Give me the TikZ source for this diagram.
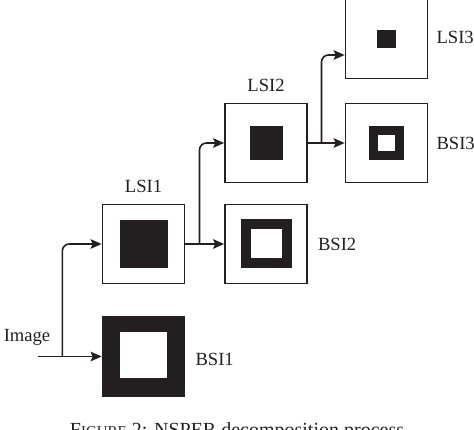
\documentclass[tikz,border=0pt]{standalone}
\usepackage{fontspec}
\setmainfont{Liberation Serif}
\usepackage{tikz}
\usetikzlibrary{positioning}
\usetikzlibrary{arrows.meta}
\definecolor{ink}{RGB}{35,31,32}
\tikzset{frame/.style={draw=ink, line width=1.7pt, minimum width=82pt, minimum height=79pt, inner sep=0pt},
    blob/.style={fill=ink, inner sep=0pt},
    hole/.style={fill=white, inner sep=0pt},
    tag/.style={font=\fontsize{18.6}{22}\selectfont, text=ink, inner sep=0pt},
    flow/.style={draw=ink, line width=1.6pt, rounded corners=7pt, -{Stealth[length=11pt, width=9.5pt, inset=2pt]}}}

\begin{document}
\begin{tikzpicture}[x=1pt, y=-1pt]
    \useasboundingbox (0,0) rectangle (474,430);
    \node[frame] (lsi1) at (143.5,244) {};
    \node[blob, minimum size=48pt] at (lsi1) {};
    \node[frame, fill=ink] (bsi1) at (143.5,356.5) {};
    \node[hole, minimum width=47pt, minimum height=45pt] at (143.3,355) {};
    \node[frame] (bsi2) at (266,244) {};
    \node[blob, minimum width=51pt, minimum height=49pt] at (bsi2) {};
    \node[hole, minimum width=31pt, minimum height=29pt] at (bsi2) {};
    \node[frame] (lsi2) at (266,143) {};
    \node[blob, minimum width=33pt, minimum height=34pt] at (lsi2) {};
    \node[frame] (bsi3) at (386.5,143) {};
    \node[blob, minimum width=35pt, minimum height=34pt] at (bsi3) {};
    \node[hole, minimum width=17pt, minimum height=16pt] at (bsi3) {};
    \node[frame] (lsi3) at (386.5,39) {};
    \node[blob, minimum width=19pt, minimum height=18.5pt] at (lsi3) {};
    \node[tag, above=11pt of lsi1] (lsi1t) {LSI1};
    \node[tag, above=11pt of lsi2] (lsi2t) {LSI2};
    \node[tag, right=8pt of lsi3, yshift=2pt] (lsi3t) {LSI3};
    \node[tag, right=10pt of bsi1, yshift=-3pt] (bsi1t) {BSI1};
    \node[tag, right=10pt of bsi2] (bsi2t) {BSI2};
    \node[tag, right=8pt of bsi3] (bsi3t) {BSI3};
    \node[tag] (image) at (27,337) {Image};
    \coordinate (start) at (37.5,356.5);
    \coordinate (s1) at (62.3,356.5);
    \coordinate (s2) at (199.5,244);
    \coordinate (s3) at (321.5,143);
    \draw[flow] (start) -- (bsi1.west);
    \draw[flow] (s1) |- (lsi1.west);
    \draw[flow] (lsi1.east) -- (bsi2.west);
    \draw[flow] (s2) |- (lsi2.west);
    \draw[flow] (lsi2.east) -- (bsi3.west);
    \draw[flow] (s3) |- ([yshift=-16pt]lsi3.west);
    \node[anchor=base, font=\fontsize{20}{24}\selectfont, text=ink, inner sep=0pt] (caption) at (237,436)
        {F{\fontsize{15}{18}\selectfont IGURE} 2: NSPER decomposition process};
\end{tikzpicture}
\end{document}
